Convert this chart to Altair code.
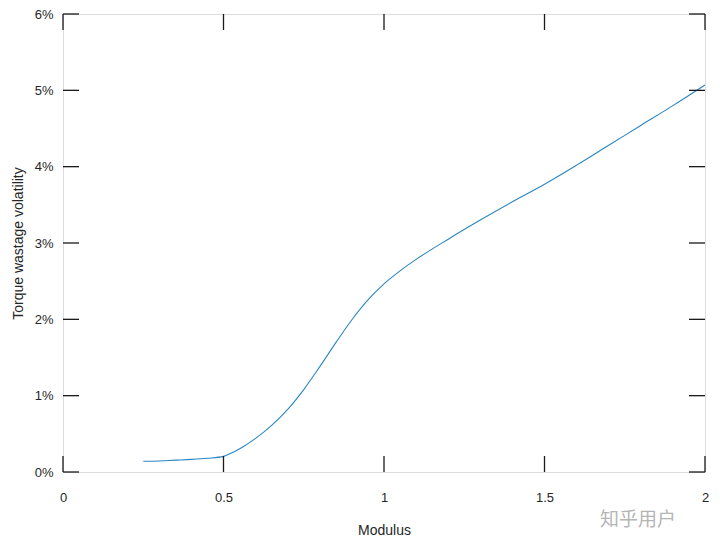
import altair as alt
import pandas as pd

modulus = [0.25, 0.30, 0.35, 0.40, 0.45, 0.50, 0.53, 0.56, 0.60, 0.65, 0.70, 0.75, 0.80,
           0.85, 0.90, 0.95, 1.00, 1.05, 1.10, 1.20, 1.30, 1.40, 1.50, 1.60, 1.70,
           1.80, 1.90, 2.00]
volatility_pct = [0.14, 0.145, 0.155, 0.165, 0.18, 0.205, 0.259, 0.328, 0.44, 0.61, 0.82, 1.08, 1.38,
                  1.695, 1.995, 2.255, 2.465, 2.635, 2.785, 3.05, 3.30, 3.54, 3.77, 4.02, 4.28,
                  4.54, 4.80, 5.07]
x_ticks = [0, 0.5, 1, 1.5, 2]
y_ticks_pct = [0, 1, 2, 3, 4, 5, 6]

W, H = 642, 458
TICK = 16
FONT = "Liberation Sans"

df = pd.DataFrame({"m": modulus, "v": [p / 100 for p in volatility_pct]})
xt = pd.DataFrame({"m": x_ticks})
yt = pd.DataFrame({"v": [p / 100 for p in y_ticks_pct]})

xs = alt.Scale(domain=[0, 2], nice=False, zero=False)
ys = alt.Scale(domain=[0, 0.06], nice=False, zero=False)

line = alt.Chart(df).mark_line(color="#2a86c2", strokeWidth=1.1, interpolate="monotone").encode(
    x=alt.X("m:Q", scale=xs, title="Modulus",
            axis=alt.Axis(values=x_ticks, format="~g", ticks=False, tickSize=0, domain=False, grid=False,
                          labelPadding=19, titlePadding=19, labelFontSize=13, titleFontSize=14,
                          labelFont=FONT, titleFont=FONT, labelColor="#262626", titleColor="#262626",
                          titleFontWeight="normal", labelFlush=False)),
    y=alt.Y("v:Q", scale=ys, title="Torque wastage volatility",
            axis=alt.Axis(values=[p / 100 for p in y_ticks_pct], format=".0%", ticks=False, tickSize=0,
                          domain=False, grid=False, labelPadding=10, titlePadding=9,
                          labelFontSize=13, titleFontSize=14, labelFont=FONT, titleFont=FONT,
                          labelColor="#262626", titleColor="#262626", titleFontWeight="normal",
                          labelFlush=False)),
)

tick_color = "#1a1a1a"
bottom_ticks = alt.Chart(xt).mark_rule(color=tick_color, strokeWidth=1.3).encode(
    x=alt.X("m:Q", scale=xs), y=alt.value(H), y2=alt.value(H - TICK))
top_ticks = alt.Chart(xt).mark_rule(color=tick_color, strokeWidth=1.3).encode(
    x=alt.X("m:Q", scale=xs), y=alt.value(0), y2=alt.value(TICK))
left_ticks = alt.Chart(yt).mark_rule(color=tick_color, strokeWidth=1.3).encode(
    y=alt.Y("v:Q", scale=ys), x=alt.value(0), x2=alt.value(TICK))
right_ticks = alt.Chart(yt).mark_rule(color=tick_color, strokeWidth=1.3).encode(
    y=alt.Y("v:Q", scale=ys), x=alt.value(W - TICK), x2=alt.value(W))

watermark = alt.Chart(pd.DataFrame({"t": ["知乎用户"]})).mark_text(
    font="Noto Sans CJK SC", fontSize=19, color="#b5b5b5", align="center", baseline="middle"
).encode(text="t:N", x=alt.value(W - 67), y=alt.value(H + 48))

chart = alt.layer(line, bottom_ticks, top_ticks, left_ticks, right_ticks, watermark).properties(
    width=W, height=H,
    autosize=alt.AutoSizeParams(type="none"),
    padding={"left": 55, "top": 6, "right": 6, "bottom": 64},
).configure_view(stroke="#6e6e6e", strokeWidth=1).configure(background="white")

chart.save("out.html", embed_options={"renderer": "svg", "actions": False})
